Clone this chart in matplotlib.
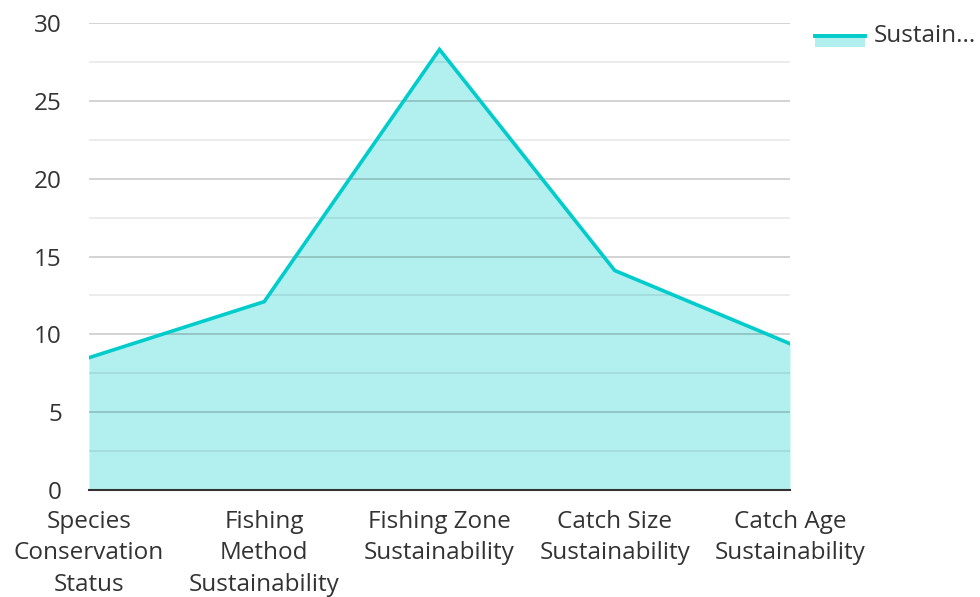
import matplotlib
matplotlib.use("Agg")
import matplotlib.pyplot as plt
from matplotlib.lines import Line2D
from matplotlib.patches import Rectangle

plt.rcParams['font.family'] = ['Open Sans', 'DejaVu Sans']

categories = ["Species\nConservation\nStatus", "Fishing\nMethod\nSustainability",
              "Fishing Zone\nSustainability", "Catch Size\nSustainability",
              "Catch Age\nSustainability"]
values = [8.5, 12.1, 28.3, 14.1, 9.4]
series_name = "Sustain..."
y_ticks = [0, 5, 10, 15, 20, 25, 30]

line_color = "#00cccc"
fill_color = "#b2efef"
text_color = "#333333"
font_size = 17.5

fig = plt.figure(figsize=(9.8, 5.97), dpi=100)
ax = fig.add_axes([0.0908, 0.1792, 0.7153, 0.7823])

x = list(range(len(values)))
ax.fill_between(x, values, 0, color=fill_color, zorder=1, linewidth=0)
ax.plot(x, values, color=line_color, linewidth=2.6, zorder=3, solid_joinstyle='miter')

ax.set_xlim(0, len(values) - 1)
ax.set_ylim(0, 30)

# major and minor horizontal grid
for t in y_ticks[1:]:
    ax.axhline(t, color="#000000", alpha=0.2, linewidth=1.2, zorder=2)
for t in [2.5 + 5 * i for i in range(6)]:
    ax.axhline(t, color="#000000", alpha=0.09, linewidth=1.2, zorder=2)

ax.set_yticks(y_ticks)
ax.set_yticklabels([str(t) for t in y_ticks])
ax.set_xticks(x)
ax.set_xticklabels(categories, linespacing=1.4)
ax.tick_params(axis='both', length=0, labelsize=font_size, colors=text_color)
ax.tick_params(axis='y', pad=19.5)
ax.tick_params(axis='x', pad=14.5)

for side in ["top", "right", "left"]:
    ax.spines[side].set_visible(False)
ax.spines["bottom"].set_color("#333333")
ax.spines["bottom"].set_linewidth(1.5)
ax.spines["bottom"].set_zorder(4)

# legend
fig.patches.append(Rectangle((815 / 980, 1 - 47 / 597), 50 / 980, 12 / 597,
                             transform=fig.transFigure, facecolor=fill_color,
                             edgecolor='none'))
fig.lines.append(Line2D([815 / 980, 865 / 980], [1 - 36 / 597, 1 - 36 / 597],
                        transform=fig.transFigure, color=line_color, linewidth=2.8))
fig.text(874 / 980, 1 - 36 / 597, series_name, fontsize=font_size, color=text_color,
         va='center', ha='left')

fig.savefig("out.png", dpi=100)
